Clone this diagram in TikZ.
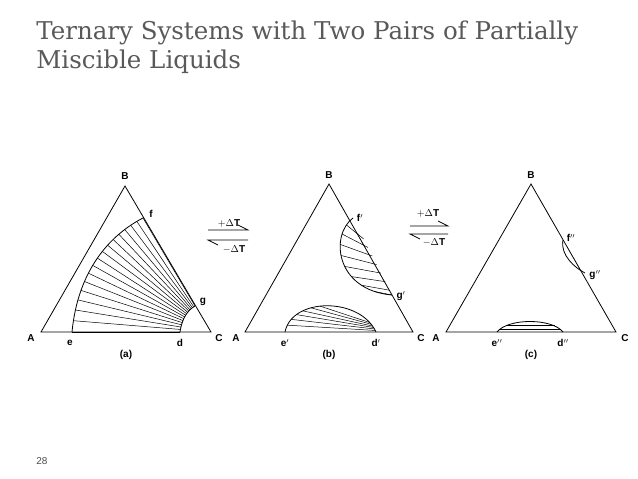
\documentclass[tikz,border=0pt]{standalone}
\usepackage{fontspec}
\setmainfont{DejaVu Serif}
\newfontfamily\lab{Liberation Sans}
\begin{document}
\begin{tikzpicture}[x=1pt,y=-1pt,line width=0.8pt,
 lbl/.style={font=\lab\bfseries\fontsize{10}{10}\selectfont,inner sep=0pt},
 tie/.style={line width=0.5pt},
 harp/.style={line width=0.7pt}]
\useasboundingbox (0,0) rectangle (638,479);
\node[anchor=west,text=black!65,font=\fontsize{24.5}{28}\selectfont,inner sep=0pt] (t1) at (36,33) {Ternary Systems with Two Pairs of Partially};
\node[anchor=west,text=black!65,font=\fontsize{24.5}{28}\selectfont,inner sep=0pt] (t2) at (36,62) {Miscible Liquids};
\node[font=\lab\fontsize{10}{10}\selectfont,text=black!70] (pg) at (42,461) {28};
% triangle a
\coordinate (aA) at (41,332); \coordinate (aB) at (125,186); \coordinate (aC) at (211,332);
\draw (aA)--(aB)--(aC)--cycle;
\node[lbl] (la) at (31,338) {A}; \node[lbl] (lb) at (125,176) {B}; \node[lbl] (lc) at (219,338) {C};
\node[lbl] (le) at (70,343) {e}; \node[lbl] (ld) at (180,343) {d};
\node[lbl] (lf) at (151,214) {f}; \node[lbl] (lg) at (203,302) {g};
\node[lbl] (cap) at (126,355) {(a)};
\draw (72,332) .. controls (78,270) and (110,235) .. (143,218);
\draw (180,332) .. controls (182,318) and (188,310) .. (195,306);
\foreach \i in {0,...,16}{
 \path (72,332) .. controls (78,270) and (110,235) .. (143,218) coordinate[pos=\i/16] (o\i);
 \path (180,332) .. controls (182,318) and (188,310) .. (195,306) coordinate[pos=\i/16] (n\i);
 \draw[tie] (o\i)--(n\i);}
% arrows 1
\node[lbl] (p1) at (229,223) {$+\Delta$T};
\node[lbl] (m1) at (234,249) {$-\Delta$T};
\coordinate (u1l) at (208,230); \coordinate (u1r) at (248,230); \coordinate (u1h) at (238,225);
\coordinate (d1l) at (208,240); \coordinate (d1r) at (248,240); \coordinate (d1h) at (218,245);
\draw[harp] (u1l)--(u1r)--(u1h); \draw[harp] (d1r)--(d1l)--(d1h);
% triangle b
\coordinate (bA) at (245,332); \coordinate (bB) at (329,184); \coordinate (bC) at (413,332);
\draw (bA)--(bB)--(bC)--cycle;
\node[lbl] (lb2) at (329,175) {B}; \node[lbl] (la2) at (236,338) {A}; \node[lbl] (lc2) at (421,338) {C};
\node[lbl] (lf2) at (360,218) {f$'$}; \node[lbl] (lg2) at (401,296) {g$'$};
\node[lbl] (le2) at (285,343) {e$'$}; \node[lbl] (ld2) at (376,343) {d$'$};
\node[lbl] (cap2) at (329,355) {(b)};
\draw (353,218) .. controls (330,235) and (335,290) .. (392,295);
\foreach \i in {1,...,8}{
 \path (353,218) .. controls (330,235) and (335,290) .. (392,295) coordinate[pos=\i/9] (p\i);
 \path (353,218) -- (392,295) coordinate[pos={min(1,\i/9+0.16)}] (q\i);
 \draw[tie] (p\i)--(q\i);}
\draw (285,332) .. controls (292,297) and (360,297) .. (376,332);
\foreach \a/\b in {0.07/0.985,0.14/0.97,0.21/0.955,0.28/0.94,0.36/0.92,0.44/0.9}{
 \path (285,332) .. controls (292,297) and (360,297) .. (376,332) coordinate[pos=\a] (r) coordinate[pos=\b] (s);
 \draw[tie] (r)--(s);}
% arrows 2
\node[lbl] (p2) at (428,213) {$+\Delta$T};
\node[lbl] (m2) at (434,242) {$-\Delta$T};
\coordinate (u2l) at (410,226); \coordinate (u2r) at (448,226); \coordinate (u2h) at (438,221);
\coordinate (d2l) at (410,234); \coordinate (d2r) at (448,234); \coordinate (d2h) at (420,239);
\draw[harp] (u2l)--(u2r)--(u2h); \draw[harp] (d2r)--(d2l)--(d2h);
% triangle c
\coordinate (cA) at (446,332); \coordinate (cB) at (531,184); \coordinate (cC) at (616,332);
\draw (cA)--(cB)--(cC)--cycle;
\node[lbl] (lb3) at (531,175) {B}; \node[lbl] (la3) at (436,338) {A}; \node[lbl] (lc3) at (625,338) {C};
\node[lbl] (lf3) at (571,238) {f$''$}; \node[lbl] (lg3) at (595,275) {g$''$};
\node[lbl] (le3) at (497,343) {e$''$}; \node[lbl] (ld3) at (563,343) {d$''$};
\node[lbl] (cap3) at (531,355) {(c)};
\draw (563,240) .. controls (560,255) and (575,268) .. (585,273);
\draw (497,332) .. controls (508,318) and (552,318) .. (563,332);
\draw[tie] (506,325) -- (555,325);
\draw[tie] (500,329) -- (561,329);
\end{tikzpicture}
\end{document}
